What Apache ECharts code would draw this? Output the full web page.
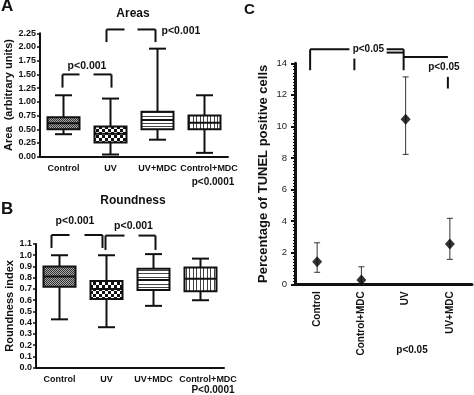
<!DOCTYPE html>
<html><head><meta charset="utf-8">
<script src="https://cdn.jsdelivr.net/npm/echarts@6/dist/echarts.min.js"></script>
<style>html,body{margin:0;padding:0;background:#fff;}#c{width:474px;height:395px;}</style>
</head><body><div id="c"></div><script>
const FONT = 'Liberation Sans, Arial, Helvetica, sans-serif';

// ---------- data ----------
const categoriesAB = ['Control', 'UV', 'UV+MDC', 'Control+MDC'];
const areaTicks = [0, 2.25, 0.25];
const areaMin    = [0.41, 0.04, 0.31, 0.07];
const areaQ1     = [0.50, 0.26, 0.50, 0.50];
const areaMedian = [0.61, 0.42, 0.67, 0.62];
const areaQ3     = [0.72, 0.55, 0.82, 0.75];
const areaMax    = [1.12, 1.06, 1.97, 1.12];

const roundTicks = [0, 1.1, 0.1];
const roundMin    = [0.43, 0.36, 0.55, 0.60];
const roundQ1     = [0.72, 0.61, 0.69, 0.68];
const roundMedian = [0.81, 0.70, 0.78, 0.79];
const roundQ3     = [0.90, 0.77, 0.88, 0.89];
const roundMax    = [1.00, 1.00, 1.01, 0.97];

const categoriesC = ['Control', 'Control+MDC', 'UV', 'UV+MDC'];
const tunelTicks = [0, 14, 2];
const tunelMean = [1.43, 0.27, 10.45, 2.55];
const tunelLow  = [0.76, 0.00, 8.23, 1.58];
const tunelHigh = [2.63, 1.11, 13.14, 4.18];

// ---------- patterns ----------
function makePattern(kind) {
  const c = document.createElement('canvas');
  let ctx;
  if (kind === 'cross') {
    c.width = 2; c.height = 2; ctx = c.getContext('2d');
    ctx.fillStyle = '#a8a8a8'; ctx.fillRect(0, 0, 2, 2);
    ctx.fillStyle = '#333'; ctx.fillRect(0, 0, 1, 1); ctx.fillRect(1, 1, 1, 1);
  } else if (kind === 'check') {
    c.width = 6; c.height = 6; ctx = c.getContext('2d');
    ctx.fillStyle = '#111'; ctx.fillRect(0, 0, 6, 6);
    ctx.fillStyle = '#fff'; ctx.fillRect(0, 0, 3, 3); ctx.fillRect(3, 3, 3, 3);
  } else if (kind === 'hlines') {
    c.width = 1; c.height = 7; ctx = c.getContext('2d');
    ctx.fillStyle = '#fff'; ctx.fillRect(0, 0, 1, 7);
    ctx.fillStyle = '#444'; ctx.fillRect(0, 0, 1, 1); ctx.fillRect(0, 4, 1, 1);
  } else {
    c.width = 7; c.height = 1; ctx = c.getContext('2d');
    ctx.fillStyle = '#fff'; ctx.fillRect(0, 0, 7, 1);
    ctx.fillStyle = '#444'; ctx.fillRect(0, 0, 1, 1); ctx.fillRect(4, 0, 1, 1);
  }
  return { image: c, repeat: 'repeat' };
}
const patterns = [makePattern('cross'), makePattern('check'), makePattern('hlines'), makePattern('vlines')];

// ---------- helpers ----------
const INK = '#111';
function boxRender(params, api) {
  const x = api.value(0);
  const pMin = api.coord([x, api.value(1)]);
  const pQ1 = api.coord([x, api.value(2)]);
  const pMed = api.coord([x, api.value(3)]);
  const pQ3 = api.coord([x, api.value(4)]);
  const pMax = api.coord([x, api.value(5)]);
  const cx = pMin[0];
  const bw = 32, cw = 17;
  const ls = { stroke: INK, lineWidth: 2 };
  return { type: 'group', children: [
    { type: 'line', shape: { x1: cx, y1: pMax[1], x2: cx, y2: pQ3[1] }, style: ls },
    { type: 'line', shape: { x1: cx, y1: pQ1[1], x2: cx, y2: pMin[1] }, style: ls },
    { type: 'line', shape: { x1: cx - cw / 2, y1: pMax[1], x2: cx + cw / 2, y2: pMax[1] }, style: ls },
    { type: 'line', shape: { x1: cx - cw / 2, y1: pMin[1], x2: cx + cw / 2, y2: pMin[1] }, style: ls },
    { type: 'rect', shape: { x: cx - bw / 2, y: pQ3[1], width: bw, height: pQ1[1] - pQ3[1] },
      style: { fill: patterns[params.dataIndex], stroke: INK, lineWidth: 2 } },
    { type: 'line', shape: { x1: cx - bw / 2, y1: pMed[1], x2: cx + bw / 2, y2: pMed[1] }, style: ls }
  ]};
}
function errRender(params, api) {
  const x = api.value(0);
  const lo = api.coord([x, api.value(1)]);
  const hi = api.coord([x, api.value(2)]);
  const cx = lo[0], cw = 6;
  const ls = { stroke: '#333', lineWidth: 1 };
  return { type: 'group', children: [
    { type: 'line', shape: { x1: cx, y1: hi[1], x2: cx, y2: lo[1] }, style: ls },
    { type: 'line', shape: { x1: cx - cw / 2, y1: hi[1], x2: cx + cw / 2, y2: hi[1] }, style: ls },
    { type: 'line', shape: { x1: cx - cw / 2, y1: lo[1], x2: cx + cw / 2, y2: lo[1] }, style: ls }
  ]};
}

function abX(idx, cats, lastPad) {
  return {
    type: 'category', gridIndex: idx, data: cats,
    axisLine: { lineStyle: { color: INK, width: 2 } },
    axisTick: { alignWithLabel: true, length: 4, lineStyle: { color: INK, width: 2 } },
    axisLabel: { color: INK, fontFamily: FONT, fontWeight: 'bold', fontSize: 9, margin: 7, interval: 0,
      formatter: (v, i) => i === cats.length - 1 ? '{r|' + v + '}' : v,
      rich: { r: { fontFamily: FONT, fontWeight: 'bold', fontSize: 9, color: INK, padding: [0, 0, 0, lastPad] } } },
    splitLine: { show: false }
  };
}
function abY(idx, ticks, digits, name, gap) {
  return {
    type: 'value', gridIndex: idx, min: ticks[0], max: ticks[1], interval: ticks[2],
    name: name, nameLocation: 'middle', nameGap: gap,
    nameTextStyle: { color: INK, fontFamily: FONT, fontWeight: 'bold', fontSize: 11 },
    axisLine: { show: true, lineStyle: { color: INK, width: 2 } },
    axisTick: { show: true, length: 3, lineStyle: { color: INK, width: 1.5 } },
    axisLabel: { color: INK, fontFamily: FONT, fontWeight: 'bold', fontSize: 9, margin: 4,
      formatter: v => v.toFixed(digits) },
    splitLine: { show: false }
  };
}

const chart = echarts.init(document.getElementById('c'), null, { renderer: 'canvas' });
chart.setOption({
  animation: false,
  backgroundColor: '#fff',
  grid: [
    { left: 40, top: 33.3, width: 188, height: 123.4 },
    { left: 36, top: 244, width: 188, height: 123.7 },
    { left: 295, top: 63.3, width: 177, height: 221 }
  ],
  xAxis: [
    abX(0, categoriesAB, 9),
    abX(1, categoriesAB, 15),
    {
      type: 'category', gridIndex: 2, data: categoriesC,
      axisLine: { lineStyle: { color: INK, width: 3 } },
      axisTick: { alignWithLabel: false, length: 5, lineStyle: { color: INK, width: 2 } },
      axisLabel: { rotate: 90, color: INK, fontFamily: FONT, fontWeight: 'bold', fontSize: 10, margin: 7, interval: 0 },
      splitLine: { show: false }
    }
  ],
  yAxis: [
    abY(0, areaTicks, 2, 'Area  (arbitrary units)', 25),
    abY(1, roundTicks, 1, 'Roundness index', 21),
    {
      type: 'value', gridIndex: 2, min: tunelTicks[0], max: tunelTicks[1], interval: tunelTicks[2],
      name: 'Percentage of TUNEL positive cells', nameLocation: 'middle', nameGap: 25,
      nameTextStyle: { color: INK, fontFamily: FONT, fontWeight: 'bold', fontSize: 13 },
      axisLine: { show: true, lineStyle: { color: INK, width: 3 } },
      axisTick: { show: true, length: 4, lineStyle: { color: INK, width: 2 } },
      minorTick: { show: true, splitNumber: 10, length: 2, lineStyle: { color: INK, width: 1 } },
      axisLabel: { color: '#222', fontFamily: FONT, fontSize: 9.5, margin: 8 },
      splitLine: { show: false }, minorSplitLine: { show: false }
    }
  ],
  series: [
    { type: 'custom', xAxisIndex: 0, yAxisIndex: 0, renderItem: boxRender,
      encode: { x: 0, y: [1, 2, 3, 4, 5] },
      data: categoriesAB.map((c, i) => [i, areaMin[i], areaQ1[i], areaMedian[i], areaQ3[i], areaMax[i]]) },
    { type: 'custom', xAxisIndex: 1, yAxisIndex: 1, renderItem: boxRender,
      encode: { x: 0, y: [1, 2, 3, 4, 5] },
      data: categoriesAB.map((c, i) => [i, roundMin[i], roundQ1[i], roundMedian[i], roundQ3[i], roundMax[i]]) },
    { type: 'custom', xAxisIndex: 2, yAxisIndex: 2, renderItem: errRender,
      encode: { x: 0, y: [1, 2] },
      data: categoriesC.map((c, i) => [i, tunelLow[i], tunelHigh[i]]) },
    { type: 'scatter', xAxisIndex: 2, yAxisIndex: 2, symbol: 'diamond', symbolSize: [10, 11],
      itemStyle: { color: '#000' }, z: 5,
      data: categoriesC.map((c, i) => [i, tunelMean[i]]) }
  ]
});

// ---------- annotations (positions derived through the axes) ----------
const g = [];
const L = (x1, y1, x2, y2) => g.push({ type: 'line', silent: true, shape: { x1, y1, x2, y2 }, style: { stroke: INK, lineWidth: 2 } });
const T = (x, y, text, size, align) => g.push({ type: 'text', silent: true, x, y,
  style: { text, font: 'bold ' + size + 'px ' + FONT, fill: INK, align: align || 'center', verticalAlign: 'middle' } });
const px = (grid, cat, v) => chart.convertToPixel({ gridIndex: grid }, [cat, v]);

function bracket(grid, c1, c2, top, bottom, off1, off2, arm1, arm2) {
  const a = px(grid, c1, top), b = px(grid, c2, top);
  const yb = px(grid, c1, bottom)[1];
  const x1 = a[0] + off1, x2 = b[0] + off2, y = a[1];
  L(x1, yb, x1, y); L(x1, y, x1 + arm1, y);
  L(x2, yb, x2, y); L(x2, y, x2 - arm2, y);
  return [x1, x2];
}
// Panel A
let r = bracket(0, 0, 1, 1.50, 1.26, -1, 1, 17, 18);
T((r[0] + r[1]) / 2, px(0, 0, 1.65)[1], 'p<0.001', 10.5);
r = bracket(0, 1, 2, 2.32, 2.09, -4, -2, 18, 18);
T(px(0, 2, 0)[0] + 4, px(0, 2, 2.29)[1], 'p<0.001', 10.5, 'left');
// Panel B
r = bracket(1, 0, 1, 1.18, 1.065, -8, -4, 18, 18);
T((r[0] + r[1]) / 2 - 2, px(1, 0, 1.30)[1], 'p<0.001', 10.5);
r = bracket(1, 1, 2, 1.175, 1.047, -1, 2, 19, 17);
T((r[0] + r[1]) / 2 + 3, px(1, 0, 1.26)[1], 'p<0.001', 10.5);
// Panel C
const c0 = px(2, 0, 14.89), c1 = px(2, 1, 14.89), c2 = px(2, 2, 14.89), c3 = px(2, 3, 14.4);
const yTop = c0[1], yBot = px(2, 0, 13.56)[1];
L(c0[0] - 7, yTop, c0[0] - 7, yBot);
L(c0[0] - 7, yTop, c1[0] - 12, yTop);
T(c1[0] + 7, yTop, 'p<0.05', 10);
L(c2[0] - 19, yTop, c2[0] - 2, yTop);
L(c2[0] - 19, px(2, 2, 14.68)[1], c2[0] - 2, px(2, 2, 14.68)[1]);
L(c1[0] - 7, px(2, 1, 14.3)[1], c1[0] - 7, yBot);
L(c2[0] - 2, yTop, c2[0] - 2, yBot);
L(c2[0] - 2, c3[1], c3[0] - 2, c3[1]);
L(c3[0] - 2, px(2, 3, 13.14)[1], c3[0] - 2, px(2, 3, 12.4)[1]);
T(c3[0] - 6, px(2, 3, 13.77)[1], 'p<0.05', 10);

// Panel letters, titles, footers
T(1, 6, 'A', 17, 'left');
T(133, 14, 'Areas', 12);
T(213, 182, 'p<0.0001', 10);
T(1, 209, 'B', 17, 'left');
T(133, 201, 'Roundness', 12);
T(213, 390, 'P<0.0001', 10);
T(244, 10, 'C', 15, 'left');
T(412, 350, 'p<0.05', 10);

chart.setOption({ graphic: g });
</script></body></html>
